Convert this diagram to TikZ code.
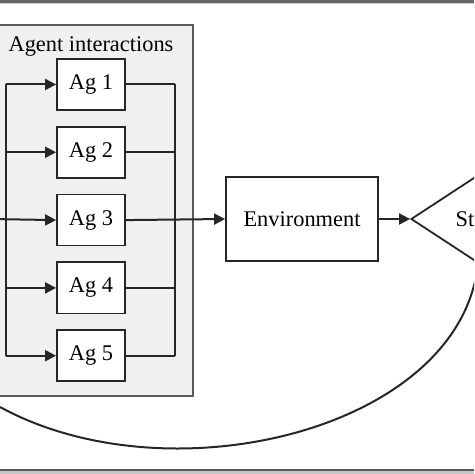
\documentclass[tikz,border=0pt]{standalone}
\usepackage{fontspec}
\setmainfont{Liberation Serif}
\usetikzlibrary{arrows.meta, positioning, shapes.geometric}
\tikzset{
    groupbox/.style={
        rectangle,
        draw=black!65,
        line width=0.6pt,
        fill=gray!12,
        inner sep=0pt
    },
    agent/.style={
        rectangle,
        draw=black!85,
        line width=0.9pt,
        fill=white,
        minimum width=34pt,
        minimum height=25.5pt,
        inner sep=0pt
    },
    envbox/.style={
        rectangle,
        draw=black!85,
        line width=0.9pt,
        fill=white,
        minimum width=76pt,
        minimum height=42pt,
        inner sep=0pt
    },
    statebox/.style={
        diamond,
        aspect=1.5,
        draw=black!85,
        line width=0.9pt,
        fill=white,
        minimum width=67pt,
        minimum height=44pt,
        inner sep=0pt
    },
    line/.style={draw=black!85, line width=1pt},
    arrow/.style={line, -{Triangle[length=5.5pt,width=5.5pt]}}
}

\begin{document}
\begin{tikzpicture}[x=0.5pt, y=-0.5pt, node distance=7.5pt,
    font=\fontsize{11.2}{13}\selectfont]

    \useasboundingbox (0,0) rectangle (474,474);
    \clip (0,0) rectangle (474,474);

    % frame bands of the page
    \fill[black!60] (0,0) rectangle (474,3);
    \fill[black!20] (0,3) rectangle (474,4);
    \fill[black!65] (0,469) rectangle (474,471);
    \fill[black!22] (0,471) rectangle (474,474);

    \node (group) [groupbox, minimum width=101.5pt, minimum height=185.5pt] at (91.5,210.5) {};
    \node (title) at (91,47) {Agent interactions};

    \node (ag1) [agent] at (91,84.5) {Ag 1};
    \node (ag2) [agent, below=of ag1] {Ag 2};
    \node (ag3) [agent, below=of ag2] {Ag 3};
    \node (ag4) [agent, below=of ag3] {Ag 4};
    \node (ag5) [agent, below=of ag4] {Ag 5};

    \node (env) [envbox] at (302,219) {Environment};
    \node (state) [statebox] at (478,219) {State};

    \coordinate (lbus) at (6,219);
    \coordinate (rbus) at (175,219);
    \coordinate (input) at (-10,219);
    \coordinate (fb) at (0,407);

    % fan out to the agents
    \draw [line] (ag1.west -| lbus) -- (ag5.west -| lbus);
    \draw [arrow] (input) -- (ag3.west);
    \foreach \i in {1,2,4,5} {
        \draw [arrow] (ag\i.west -| lbus) -- (ag\i.west);
    }

    % collect to the environment
    \draw [line] (ag1.east -| rbus) -- (ag5.east -| rbus);
    \foreach \i in {1,2,4,5} {
        \draw [line] (ag\i.east) -- (ag\i.east -| rbus);
    }
    \draw [arrow] (ag3.east) -- (env.west);

    \draw [arrow] (env) -- (state);
    \draw [line] (state.south) .. controls (460,430) and (170,500) .. (fb);

\end{tikzpicture}
\end{document}
